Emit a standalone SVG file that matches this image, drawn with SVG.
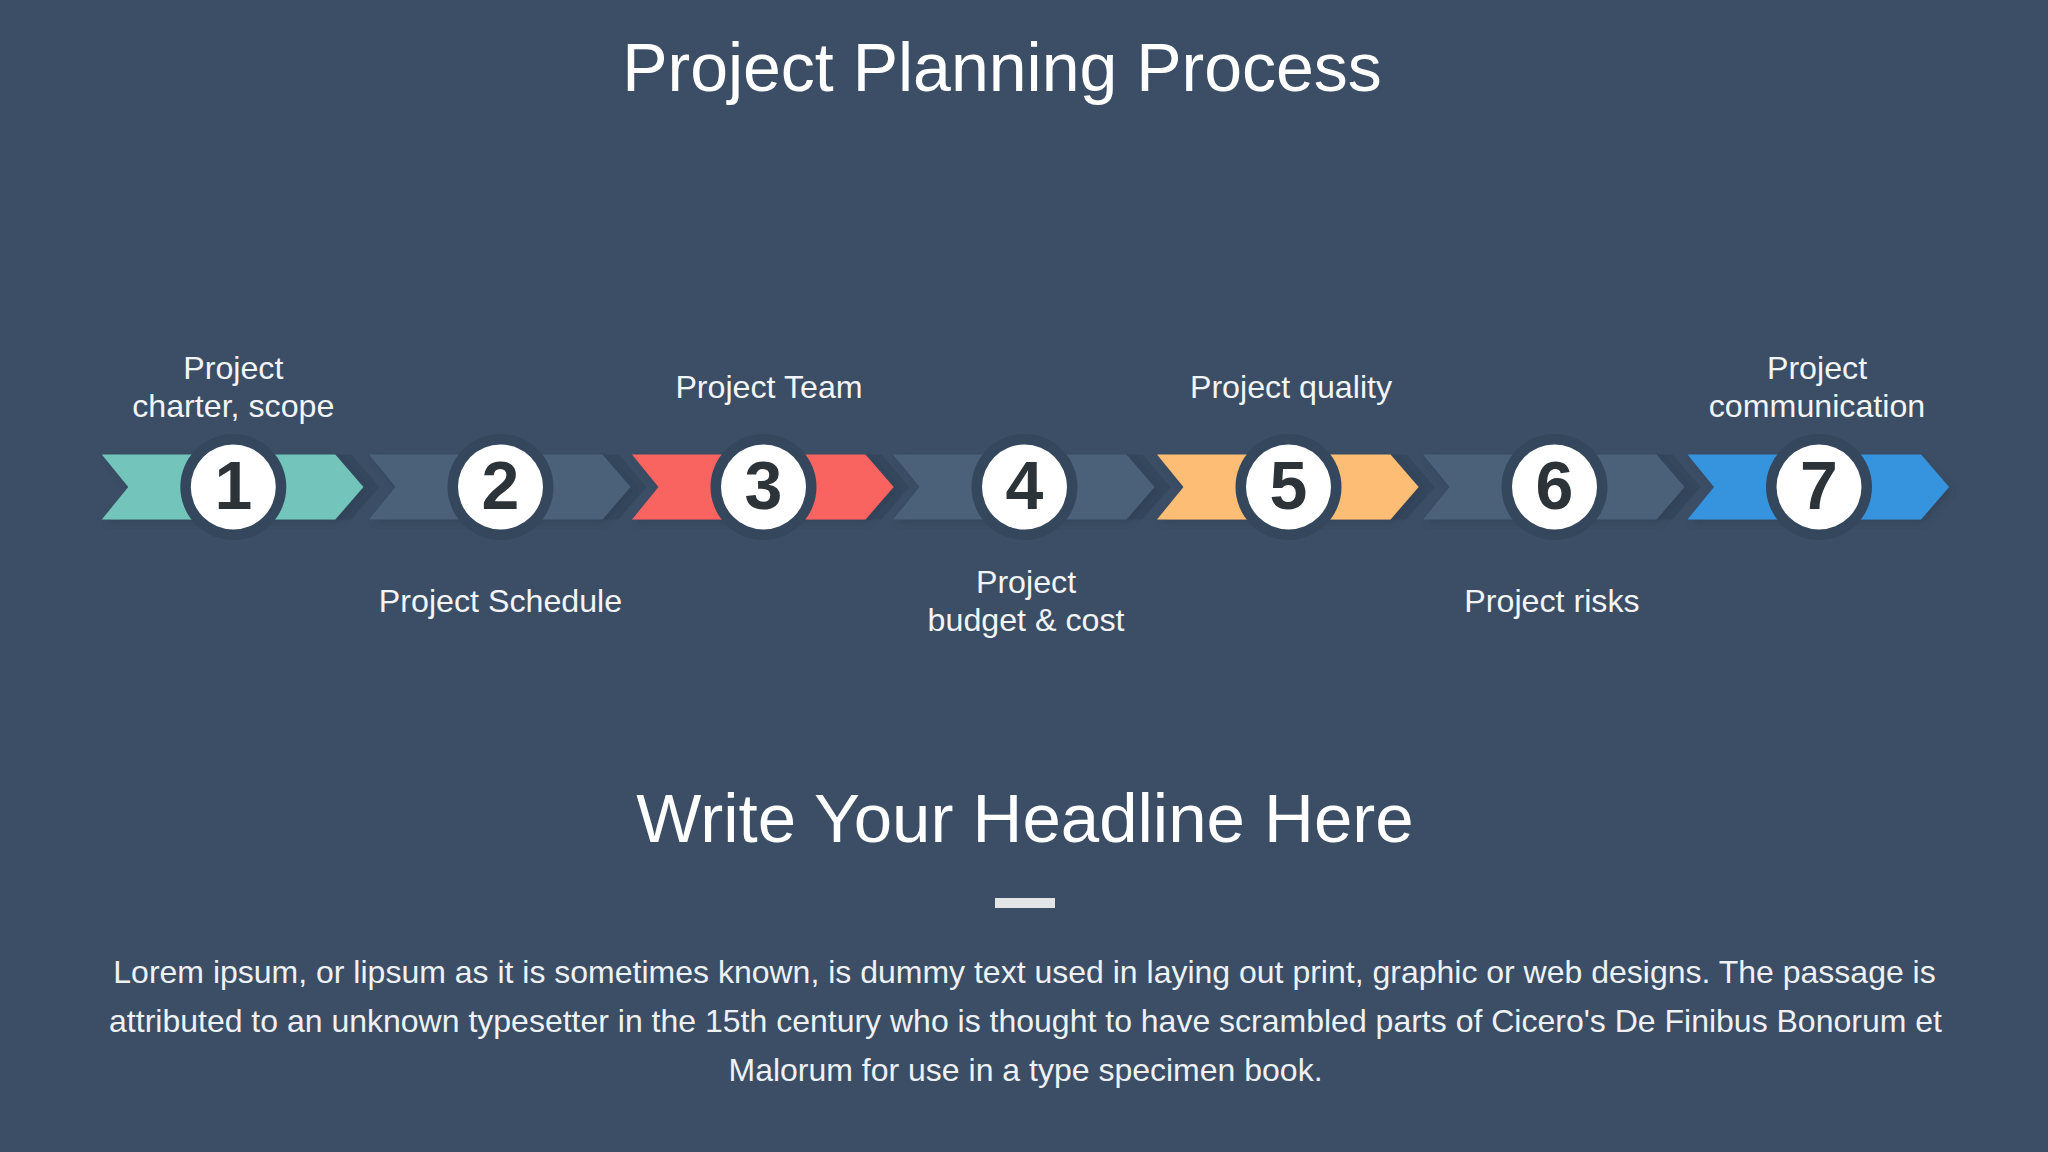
<svg xmlns="http://www.w3.org/2000/svg" width="2048" height="1152" viewBox="0 0 2048 1152">
  <style>
    .bg { fill: #3b4e65; }
    .title { font-family: "Liberation Sans", Arial, sans-serif; font-size: 68px; fill: #ffffff; text-anchor: middle; }
    .head { font-family: "Liberation Sans", Arial, sans-serif; font-size: 69px; fill: #ffffff; text-anchor: middle; }
    .lbl { font-family: "Liberation Sans", Arial, sans-serif; font-size: 32.2px; fill: #f2f4f6; text-anchor: middle; }
    .num { font-family: "Liberation Sans", Arial, sans-serif; font-size: 68px; font-weight: bold; fill: #2d3439; text-anchor: middle; }
    .para { font-family: "Liberation Sans", Arial, sans-serif; font-size: 32px; fill: #eef1f4; text-anchor: middle; }
    .ring { fill: #34475d; }
    .dot { fill: #ffffff; }
    .gap { fill: #34475d; }
    .c-teal { fill: #73c5bc; }
    .c-gray { fill: #4b6079; }
    .c-red { fill: #f96461; }
    .c-orange { fill: #fdbd74; }
    .c-blue { fill: #3594dd; }
  </style>
  <defs>
    <polygon id="chev" points="0,454.5 233.5,454.5 261.6,487 233.5,519.5 0,519.5 26.5,487"/>
    <filter id="sh" x="-10%" y="-30%" width="120%" height="160%">
      <feDropShadow dx="3" dy="4" stdDeviation="3" flood-color="#2a3a4d" flood-opacity="0.45"/>
    </filter>
  </defs>
  <rect class="bg" x="0" y="0" width="2048" height="1152"/>

  <text class="title" x="1002" y="91">Project Planning Process</text>

  <g id="connectors"></g>

  <g id="step1" transform="translate(101.8,0)">
    <use href="#chev" class="gap" transform="translate(16,0)"/>
    <use href="#chev" class="c-teal" filter="url(#sh)"/>
    <circle class="ring" cx="131.5" cy="487" r="53"/>
    <circle class="dot" cx="131.5" cy="487" r="42.5"/>
    <text class="num" x="131.5" y="509">1</text>
    <text class="lbl" x="131.5" y="379">Project</text>
    <text class="lbl" x="131.5" y="417">charter, scope</text>
  </g>

  <g id="step2" transform="translate(369,0)">
    <use href="#chev" class="gap" transform="translate(16,0)"/>
    <use href="#chev" class="c-gray" filter="url(#sh)"/>
    <circle class="ring" cx="131.5" cy="487" r="53"/>
    <circle class="dot" cx="131.5" cy="487" r="42.5"/>
    <text class="num" x="131.5" y="509">2</text>
    <text class="lbl" x="131.5" y="612">Project Schedule</text>
  </g>

  <g id="step3" transform="translate(632,0)">
    <use href="#chev" class="gap" transform="translate(16,0)"/>
    <use href="#chev" class="c-red" filter="url(#sh)"/>
    <circle class="ring" cx="131.5" cy="487" r="53"/>
    <circle class="dot" cx="131.5" cy="487" r="42.5"/>
    <text class="num" x="131.5" y="509">3</text>
    <text class="lbl" x="137" y="398">Project Team</text>
  </g>

  <g id="step4" transform="translate(893,0)">
    <use href="#chev" class="gap" transform="translate(16,0)"/>
    <use href="#chev" class="c-gray" filter="url(#sh)"/>
    <circle class="ring" cx="131.5" cy="487" r="53"/>
    <circle class="dot" cx="131.5" cy="487" r="42.5"/>
    <text class="num" x="131.5" y="509">4</text>
    <text class="lbl" x="133" y="593">Project</text>
    <text class="lbl" x="133" y="631">budget &amp; cost</text>
  </g>

  <g id="step5" transform="translate(1157,0)">
    <use href="#chev" class="gap" transform="translate(16,0)"/>
    <use href="#chev" class="c-orange" filter="url(#sh)"/>
    <circle class="ring" cx="131.5" cy="487" r="53"/>
    <circle class="dot" cx="131.5" cy="487" r="42.5"/>
    <text class="num" x="131.5" y="509">5</text>
    <text class="lbl" x="134" y="398">Project quality</text>
  </g>

  <g id="step6" transform="translate(1423,0)">
    <use href="#chev" class="gap" transform="translate(16,0)"/>
    <use href="#chev" class="c-gray" filter="url(#sh)"/>
    <circle class="ring" cx="131.5" cy="487" r="53"/>
    <circle class="dot" cx="131.5" cy="487" r="42.5"/>
    <text class="num" x="131.5" y="509">6</text>
    <text class="lbl" x="129" y="612">Project risks</text>
  </g>

  <g id="step7" transform="translate(1687.5,0)">
    <use href="#chev" class="c-blue" filter="url(#sh)"/>
    <circle class="ring" cx="131.5" cy="487" r="53"/>
    <circle class="dot" cx="131.5" cy="487" r="42.5"/>
    <text class="num" x="131.5" y="509">7</text>
    <text class="lbl" x="129.5" y="379">Project</text>
    <text class="lbl" x="129.5" y="417">communication</text>
  </g>

  <text class="head" x="1025" y="842">Write Your Headline Here</text>
  <rect x="995" y="898" width="60" height="10" fill="#e3e4e6"/>

  <text class="para" x="1024.5" y="983">Lorem ipsum, or lipsum as it is sometimes known, is dummy text used in laying out print, graphic or web designs. The passage is</text>
  <text class="para" x="1025.5" y="1032">attributed to an unknown typesetter in the 15th century who is thought to have scrambled parts of Cicero's De Finibus Bonorum et</text>
  <text class="para" x="1025.5" y="1081">Malorum for use in a type specimen book.</text>
</svg>
